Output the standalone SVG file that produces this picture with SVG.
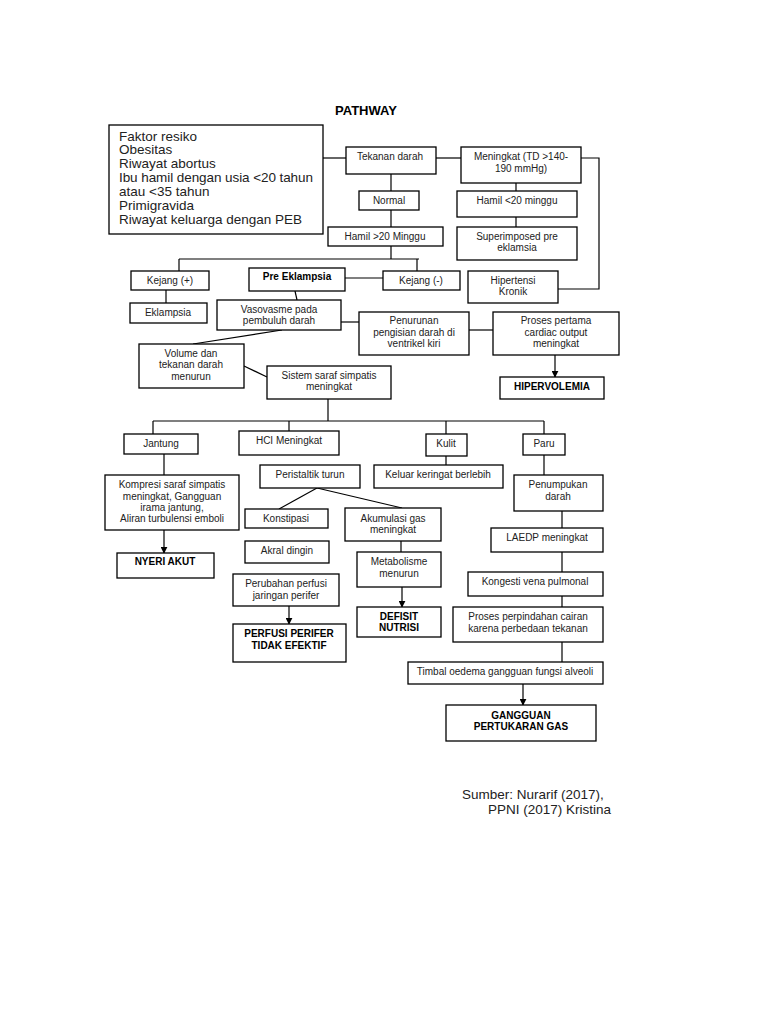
<svg xmlns="http://www.w3.org/2000/svg" width="768" height="1024" viewBox="0 0 768 1024">
<style>
rect{fill:#fff;stroke:#000;stroke-width:1.3}
text{font-family:"Liberation Sans",Arial,sans-serif;font-size:10px;fill:#222;text-anchor:middle}
.b{font-weight:bold;fill:#000}
.l{text-anchor:start;font-size:13.5px}
line,polyline{stroke:#000;stroke-width:1.2;fill:none}
.a{marker-end:url(#ar)}
</style>
<defs><marker id="ar" viewBox="0 0 10 10" refX="9" refY="5" markerWidth="7" markerHeight="7" markerUnits="userSpaceOnUse" orient="auto"><path d="M0,0L10,5L0,10z" fill="#000"/></marker></defs>
<rect x="0" y="0" width="768" height="1024" style="stroke:none"/>
<text x="366" y="115" class="b" style="font-size:13px">PATHWAY</text>
<g id="connectors">
<line x1="323" y1="158" x2="346" y2="158"/>
<line x1="436" y1="158" x2="461" y2="158"/>
<polyline points="581,158 599,158 599,289 558,289"/>
<line x1="391" y1="174" x2="391" y2="191"/>
<line x1="391" y1="210" x2="391" y2="227"/>
<line x1="516" y1="183" x2="516" y2="191"/>
<line x1="516" y1="217" x2="516" y2="227"/>
<line x1="391" y1="246" x2="391" y2="259"/>
<line x1="179" y1="259" x2="419" y2="259"/>
<line x1="179" y1="259" x2="179" y2="271"/>
<line x1="417" y1="259" x2="417" y2="271"/>
<line x1="345" y1="278" x2="383" y2="278"/>
<line x1="166" y1="290" x2="166" y2="303"/>
<line x1="295" y1="291" x2="297" y2="300"/>
<line x1="341" y1="322" x2="359" y2="322"/>
<line x1="469" y1="330" x2="493" y2="330"/>
<line x1="555" y1="355" x2="555" y2="377" class="a"/>
<line x1="282" y1="330" x2="193" y2="344"/>
<line x1="244" y1="366" x2="267" y2="377"/>
<line x1="328" y1="399" x2="328" y2="421"/>
<line x1="153" y1="421" x2="544" y2="421"/>
<line x1="153" y1="421" x2="153" y2="434"/>
<line x1="289" y1="421" x2="289" y2="431"/>
<line x1="446" y1="421" x2="446" y2="434"/>
<line x1="544" y1="421" x2="544" y2="434"/>
<line x1="164" y1="454" x2="164" y2="475"/>
<line x1="164" y1="530" x2="164" y2="553" class="a"/>
<line x1="446" y1="456" x2="446" y2="465"/>
<line x1="544" y1="455" x2="544" y2="475"/>
<line x1="317" y1="488" x2="279" y2="509"/>
<line x1="317" y1="488" x2="402" y2="508"/>
<line x1="401" y1="541" x2="401" y2="552"/>
<line x1="402" y1="587" x2="402" y2="607" class="a"/>
<line x1="289" y1="606" x2="289" y2="624" class="a"/>
<line x1="562" y1="511" x2="562" y2="528"/>
<line x1="562" y1="552" x2="562" y2="572"/>
<line x1="562" y1="596" x2="562" y2="607"/>
<line x1="562" y1="642" x2="562" y2="662"/>
<line x1="523" y1="684" x2="523" y2="705" class="a"/>
</g>
<g id="faktor"><rect x="109" y="125" width="214" height="109"/>
<text class="l" x="119" y="141">Faktor resiko</text>
<text class="l" x="119" y="154">Obesitas</text>
<text class="l" x="119" y="168">Riwayat abortus</text>
<text class="l" x="119" y="182" textLength="194" lengthAdjust="spacing">Ibu hamil dengan usia &lt;20 tahun</text>
<text class="l" x="119" y="196">atau &lt;35 tahun</text>
<text class="l" x="119" y="210">Primigravida</text>
<text class="l" x="119" y="224">Riwayat keluarga dengan PEB</text></g>
<g id="tekanan"><rect x="346" y="147" width="90" height="27"/><text x="390" y="160">Tekanan darah</text></g>
<g id="meningkat"><rect x="461" y="147" width="120" height="36"/><text x="521" y="160">Meningkat (TD &gt;140-</text><text x="521" y="172">190 mmHg)</text></g>
<g id="normal"><rect x="359" y="191" width="60" height="19"/><text x="389" y="204">Normal</text></g>
<g id="hamil20k"><rect x="457" y="191" width="120" height="26"/><text x="517" y="204">Hamil &lt;20 minggu</text></g>
<g id="hamil20b"><rect x="328" y="227" width="115" height="19"/><text x="385" y="240">Hamil &gt;20 Minggu</text></g>
<g id="superimposed"><rect x="457" y="227" width="120" height="33"/><text x="517" y="240">Superimposed pre</text><text x="517" y="251">eklamsia</text></g>
<g id="kejangp"><rect x="131" y="271" width="78" height="19"/><text x="170" y="284">Kejang (+)</text></g>
<g id="pre"><rect x="249" y="268" width="96" height="23"/><text x="297" y="280" class="b">Pre Eklampsia</text></g>
<g id="kejangm"><rect x="383" y="271" width="77" height="19"/><text x="421" y="284">Kejang (-)</text></g>
<g id="hipertensi"><rect x="468" y="271" width="90" height="32"/><text x="513" y="284">Hipertensi</text><text x="513" y="295">Kronik</text></g>
<g id="eklampsia"><rect x="130" y="303" width="77" height="20"/><text x="168" y="316">Eklampsia</text></g>
<g id="vaso"><rect x="217" y="300" width="124" height="30"/><text x="279" y="313">Vasovasme pada</text><text x="279" y="324">pembuluh darah</text></g>
<g id="penurunan"><rect x="359" y="312" width="110" height="43"/><text x="414" y="324">Penurunan</text><text x="414" y="336">pengisian darah di</text><text x="414" y="347">ventrikel kiri</text></g>
<g id="proses1"><rect x="493" y="312" width="126" height="43"/><text x="556" y="324">Proses pertama</text><text x="556" y="336">cardiac output</text><text x="556" y="347">meningkat</text></g>
<g id="hipervolemia"><rect x="500" y="377" width="104" height="22"/><text x="552" y="390" class="b">HIPERVOLEMIA</text></g>
<g id="volume"><rect x="139" y="344" width="105" height="44"/><text x="191" y="357">Volume dan</text><text x="191" y="368">tekanan darah</text><text x="191" y="380">menurun</text></g>
<g id="sistem"><rect x="267" y="366" width="124" height="33"/><text x="329" y="379">Sistem saraf simpatis</text><text x="329" y="390">meningkat</text></g>
<g id="jantung"><rect x="124" y="434" width="74" height="20"/><text x="161" y="447">Jantung</text></g>
<g id="hci"><rect x="239" y="431" width="100" height="24"/><text x="289" y="444">HCI Meningkat</text></g>
<g id="kulit"><rect x="426" y="434" width="41" height="22"/><text x="446" y="447">Kulit</text></g>
<g id="paru"><rect x="523" y="434" width="42" height="21"/><text x="544" y="447">Paru</text></g>
<g id="kompresi"><rect x="105" y="475" width="134" height="55"/><text x="172" y="488">Kompresi saraf simpatis</text><text x="172" y="500">meningkat, Gangguan</text><text x="172" y="511">irama jantung,</text><text x="172" y="522">Aliran turbulensi emboli</text></g>
<g id="nyeri"><rect x="117" y="553" width="97" height="25"/><text x="165" y="565" class="b">NYERI AKUT</text></g>
<g id="peristaltik"><rect x="260" y="465" width="100" height="23"/><text x="310" y="478">Peristaltik turun</text></g>
<g id="keluar"><rect x="374" y="465" width="129" height="23"/><text x="438" y="478">Keluar keringat berlebih</text></g>
<g id="penumpukan"><rect x="514" y="475" width="89" height="36"/><text x="558" y="488">Penumpukan</text><text x="558" y="500">darah</text></g>
<g id="konstipasi"><rect x="245" y="509" width="83" height="19"/><text x="286" y="522">Konstipasi</text></g>
<g id="akumulasi"><rect x="345" y="508" width="96" height="33"/><text x="393" y="522">Akumulasi gas</text><text x="393" y="533">meningkat</text></g>
<g id="akral"><rect x="245" y="541" width="84" height="22"/><text x="287" y="554">Akral dingin</text></g>
<g id="metabolisme"><rect x="357" y="552" width="84" height="35"/><text x="399" y="565">Metabolisme</text><text x="399" y="577">menurun</text></g>
<g id="defisit"><rect x="357" y="607" width="84" height="30"/><text x="399" y="620" class="b">DEFISIT</text><text x="399" y="631" class="b">NUTRISI</text></g>
<g id="perubahan"><rect x="233" y="574" width="106" height="32"/><text x="286" y="587">Perubahan perfusi</text><text x="286" y="599">jaringan perifer</text></g>
<g id="perfusi"><rect x="233" y="624" width="113" height="38"/><text x="289" y="637" class="b">PERFUSI PERIFER</text><text x="289" y="649" class="b">TIDAK EFEKTIF</text></g>
<g id="laedp"><rect x="491" y="528" width="112" height="24"/><text x="547" y="541">LAEDP meningkat</text></g>
<g id="kongesti"><rect x="468" y="572" width="135" height="24"/><text x="535" y="585">Kongesti vena pulmonal</text></g>
<g id="perpindahan"><rect x="453" y="607" width="150" height="35"/><text x="528" y="620">Proses perpindahan cairan</text><text x="528" y="632">karena perbedaan tekanan</text></g>
<g id="timbal"><rect x="408" y="662" width="195" height="22"/><text x="505" y="675">Timbal oedema gangguan fungsi alveoli</text></g>
<g id="gangguan"><rect x="446" y="705" width="150" height="36"/><text x="521" y="719" class="b">GANGGUAN</text><text x="521" y="730" class="b">PERTUKARAN GAS</text></g>
<text x="462" y="799" style="text-anchor:start;font-size:13.5px">Sumber: Nurarif (2017),</text>
<text x="611" y="814" style="text-anchor:end;font-size:13.5px">PPNI (2017) Kristina</text>
</svg>
